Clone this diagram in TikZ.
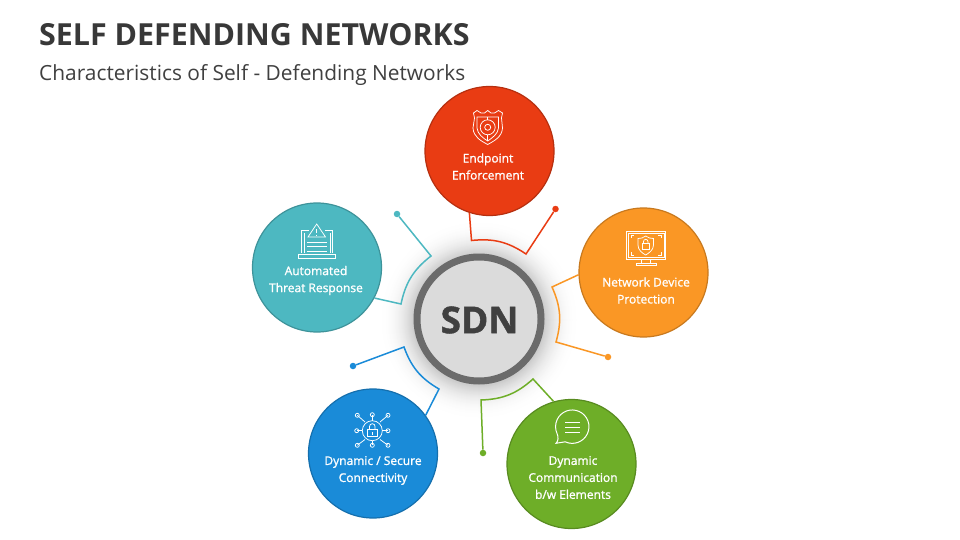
\documentclass[tikz,border=0pt]{standalone}
\usepackage{fontspec}
\setmainfont{Open Sans}
\newfontfamily\labelfont[FakeBold=1.2]{Open Sans}
\newfontfamily\sdnfont[BoldFeatures={FakeBold=1.2}]{Open Sans}
\tikzset{
  x=1pt,y=-1pt,
  line join=round,
}
\definecolor{redc}{HTML}{E93C13}
\definecolor{orangec}{HTML}{FA9725}
\definecolor{greenc}{HTML}{6EAE28}
\definecolor{bluec}{HTML}{1A8BD8}
\definecolor{tealc}{HTML}{4DB8C1}
\tikzstyle{bubble}=[circle,minimum size=129pt,inner sep=0pt,line width=1.2pt]
\tikzstyle{label}=[text=white,align=center,font=\fontsize{12}{17}\labelfont,inner sep=0pt]
\tikzstyle{link}=[line width=1.5pt]
\tikzstyle{dot}=[circle,minimum size=6.5pt,inner sep=0pt]
\tikzstyle{icon}=[white,line width=.75pt]
\begin{document}
\begin{tikzpicture}
    \useasboundingbox (0,0) rectangle (960,540);
    \fill[white] (0,0) rectangle (960,540);
    \node[anchor=base west,inner sep=0pt,text=black!78,font=\fontsize{30.4}{36}\selectfont\bfseries] (title) at (39,46) {SELF DEFENDING NETWORKS};
    \node[anchor=base west,inner sep=0pt,text=black!75,font=\fontsize{20.9}{24}\selectfont] (subtitle) at (39,81) {Characteristics of Self - Defending Networks};
    % shadow and centre
    \foreach \r in {102,101,...,66}{
      \pgfmathsetmacro{\amt}{20*((102-\r)/36)^2.4}
      \fill[black!\amt] (479,320) circle (\r);
    }
    \node[circle,minimum size=124pt,inner sep=0pt,draw=black!58,fill=black!14,line width=7pt] (sdn) at (479,319) {};
    \node[inner sep=0pt,text=black!75,font=\fontsize{37}{40}\sdnfont\bfseries] (sdntext) at (479.5,320) {SDN};
    % outer circles
    \node[bubble,fill=redc,draw=redc!78!black] (endpoint) at (489.5,151) {};
    \node[bubble,fill=orangec,draw=orangec!80!black] (device) at (643.5,272.5) {};
    \node[bubble,fill=greenc,draw=greenc!80!black] (comm) at (571.5,464) {};
    \node[bubble,fill=bluec,draw=bluec!80!black] (secure) at (373,453.5) {};
    \node[bubble,fill=tealc,draw=tealc!80!black] (threat) at (317,267.5) {};
    \node[label] (endpointtext) at (488,166.5) {Endpoint\\Enforcement};
    \node[label] (devicetext) at (646,290.5) {Network Device\\Protection};
    \node[label] (commtext) at (573,477.5) {Dynamic\\Communication\\b/w Elements};
    \node[label] (securetext) at (373,470.5) {Dynamic / Secure\\Connectivity};
    \node[label] (threattext) at (316,280.5) {Automated\\Threat Response};
    % connectors
    \coordinate (r1) at (471.5,240.5);
    \coordinate (r2) at (526,254);
    \coordinate (o1) at (552,287);
    \coordinate (o2) at (556,342);
    \coordinate (g1) at (533,379);
    \coordinate (g2) at (481,400);
    \coordinate (b1) at (439,389);
    \coordinate (b2) at (404,347);
    \coordinate (t1) at (401,304);
    \coordinate (t2) at (431,256);
    \node[dot,fill=redc] (rdot) at (555.5,209) {};
    \node[dot,fill=orangec] (odot) at (608,357) {};
    \node[dot,fill=greenc] (gdot) at (483,453) {};
    \node[dot,fill=bluec] (bdot) at (353,366) {};
    \node[dot,fill=tealc] (tdot) at (397,214) {};
    \draw[link,redc] (endpoint.252) -- (r1) to[bend left=20] (r2) -- (rdot);
    \draw[link,orangec] (device.182) -- (o1) to[bend left=20] (o2) -- (odot);
    \draw[link,greenc] (comm.106) -- (g1) to[bend left=20] (g2) -- (gdot);
    \draw[link,bluec] (secure.36) -- (b1) to[bend left=20] (b2) -- (bdot);
    \draw[link,tealc] (threat.-28) -- (t1) to[bend left=20] (t2) -- (tdot);
    % shield
    \draw[icon] (473.5,113) -- (477,110.5) -- (481,113) -- (484.5,113) -- (487.7,110.5) -- (491,113) -- (494.5,113) -- (498.5,110.5) -- (502.5,113) -- (501.5,118) -- (502.5,128) .. controls (502,137) and (494,141) .. (487.7,144.5) .. controls (481,141) and (473.5,137) .. (473,128) -- (474.5,118) -- cycle;
    \draw[icon] (477,117) -- (498.5,117) -- (498.5,128) .. controls (498,134) and (492,138) .. (487.7,141) .. controls (483,138) and (477.5,134) .. (477,128) -- cycle;
    \draw[icon] (487.7,127.3) circle (7.5);
    \draw[icon] (487.7,127.3) circle (3);
    \draw[icon] (487.7,117) -- (487.7,119.8) (487.7,134.8) -- (487.7,141);
    % monitor
    \draw[icon] (626.7,231.7) rectangle (665.7,259.3) (628.5,233.5) rectangle (664,257.5);
    \draw[icon] (641.5,259.3) -- (641.5,263.5) (650.5,259.3) -- (650.5,263.5);
    \draw[icon] (636,263.5) rectangle (656,265.5);
    \draw[icon] (631,238) -- (631,235.7) -- (634,235.7) (658,235.7) -- (661,235.7) -- (661,238) (631,252) -- (631,255) -- (634,255) (658,255) -- (661,255) -- (661,252);
    \draw[icon] (645.7,236) .. controls (648,238) and (651,238.5) .. (653.5,238.5) -- (653.5,245) .. controls (653.5,250) and (649,253) .. (645.7,255) .. controls (642,253) and (638,250) .. (638,245) -- (638,238.5) .. controls (640.5,238.5) and (643.5,238) .. (645.7,236) -- cycle;
    \draw[icon] (642,243.5) rectangle (649.5,249.5);
    \draw[icon] (643.5,243.5) -- (643.5,241.5) arc (180:360:2.2) -- (647.9,243.5);
    % speech bubble
    \draw[icon,line width=1pt] (565.2,441.8) arc[start angle=115,end angle=-205,radius=16.7] .. controls (558.5,437) and (558.5,441) .. (556,443.3) -- cycle;
    \draw[icon,line width=1pt] (565,422.7) -- (580,422.7) (565,427.3) -- (580,427.3) (565,432) -- (580,432);
    % network lock
    \draw[icon] (372.3,430.7) circle (10);
    \draw[icon] (367.7,429.3) rectangle (377.3,436.7);
    \draw[icon] (369.5,429.3) -- (369.5,426.5) arc (180:360:2.8) -- (375.1,429.3);
    \draw[icon] (372.3,432) -- (372.3,434.5);
    \foreach \px/\py/\qx/\qy in {357.3/415.3/365/422, 372.3/414.7/372.3/420.7, 388/415.3/380/422, 356.7/430.7/362.3/430.7, 388/430.7/382.3/430.7, 357.3/445.3/365/439.5, 372.3/445.3/372.3/440.7, 388/445.3/380/439.5}{
      \draw[icon] (\px,\py) circle (2);
      \draw[icon] (\px,\py) -- (\qx,\qy);
    }
    % laptop with warning
    \draw[icon] (309,230) -- (301,230) -- (301,253) (325,230) -- (332.7,230) -- (332.7,253);
    \draw[icon] (304,233) -- (304,253) (330,233) -- (330,253);
    \draw[icon] (298.3,254.3) rectangle (335.7,258.3);
    \draw[icon] (316.7,224) -- (325.5,237) -- (308,237) -- cycle;
    \draw[icon] (316.7,229) -- (316.7,233) (316.7,234.5) -- (316.7,235.5);
    \draw[icon] (307,242.3) -- (327,242.3) (307,246.7) -- (327,246.7) (307,251.7) -- (327,251.7);
  \end{tikzpicture}
\end{document}
